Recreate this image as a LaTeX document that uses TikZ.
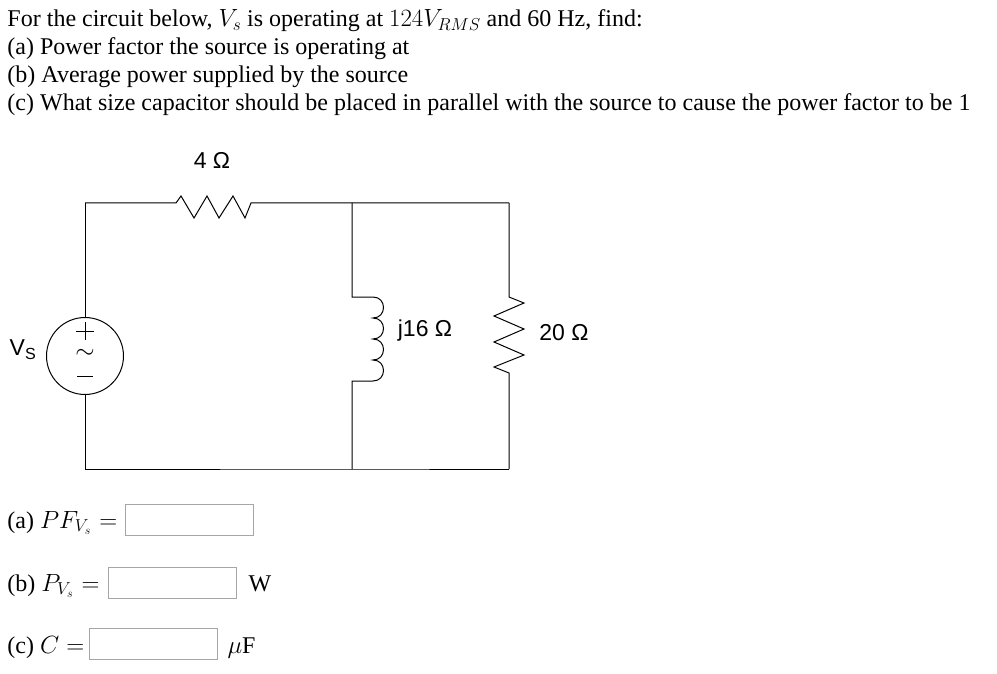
\documentclass[tikz,border=0pt]{standalone}
\usepackage{fontspec}
\setmainfont{Liberation Serif}
\newfontfamily\lsans{Liberation Sans}
\begin{document}
\begin{tikzpicture}[x=1pt,y=-1pt,line width=1pt,
  ttl/.style={anchor=base west,inner sep=0pt,font=\fontsize{24}{24}\selectfont},
  lbl/.style={inner sep=0pt,font=\lsans\fontsize{23}{23}\selectfont},
  ans/.style={draw=gray!70,line width=1pt},
  wire/.style={line width=1pt}]
\useasboundingbox (0,0) rectangle (997,674);
\node[ttl] (t1) at (7,27) {For the circuit below, $V_s$ is operating at $124V_{RMS}$ and 60 Hz, find:};
\node[ttl] (t2) at (7,55) {(a) Power factor the source is operating at};
\node[ttl] (t3) at (7,83) {(b) Average power supplied by the source};
\node[ttl] (t4) at (7,111) {(c) What size capacitor should be placed in parallel with the source to cause the power factor to be 1};
% nodes
\coordinate (tl) at (85,203);
\coordinate (tm) at (352,203);
\coordinate (tr) at (509,203);
\coordinate (bl) at (85,469);
\coordinate (bm) at (352,469);
\coordinate (br) at (509,469);
\node[draw,circle,minimum size=77pt,inner sep=0pt] (src) at (85,356) {};
\node[lbl] (vs) at (23,350) {V\textsubscript{S}};
\draw[wire] (85,322) -- (85,340) (76,331) -- (94,331);
\draw[wire] (77,376) -- (93,376);
\node[inner sep=0pt,font=\bfseries\fontsize{26}{26}\selectfont] (tilde) at (85,354) {$\sim$};
% top resistor
\draw[wire] (tl) -- (176,203) -- (181,196) -- (194,218) -- (207,196) -- (219,218) -- (233,196) -- (245,218) -- (251,203) -- (tm) -- (tr);
\node[lbl] (r4) at (212,160) {4 Ω};
\draw[wire] (tl) -- (src.north);
\draw[wire] (src.south) -- (bl) -- (bm) -- (br);
% inductor
\draw[wire] (tm) -- (352,297) -- (373,297)
  .. controls (387,297) and (387,318) .. (373,318)
  .. controls (387,318) and (387,339) .. (373,339)
  .. controls (387,339) and (387,360) .. (373,360)
  .. controls (387,360) and (387,381) .. (373,381)
  -- (352,381) -- (bm);
\node[lbl] (lj) at (425,331) {j16 Ω};
% right resistor
\draw[wire] (tr) -- (509,297) -- (524,303) -- (494,316) -- (524,329) -- (494,342) -- (524,355) -- (494,367) -- (509,373) -- (br);
\node[lbl] (r20) at (564,333) {20 Ω};
% answers
\node[ttl] (qa) at (7,528) {(a) $PF_{V_s}$\,\,$=$};
\draw[ans] (125,504) rectangle (253,535);
\node[ttl] (qb) at (7,591) {(b) $P_{V_s}$\,\,$=$};
\draw[ans] (108,567) rectangle (236,598);
\node[ttl] (wu) at (248,591) {W};
\node[ttl] (qc) at (7,653) {(c) $C=$};
\draw[ans] (89,628) rectangle (217,659);
\node[ttl] (mu) at (227,653) {$\mu$F};
\end{tikzpicture}
\end{document}
